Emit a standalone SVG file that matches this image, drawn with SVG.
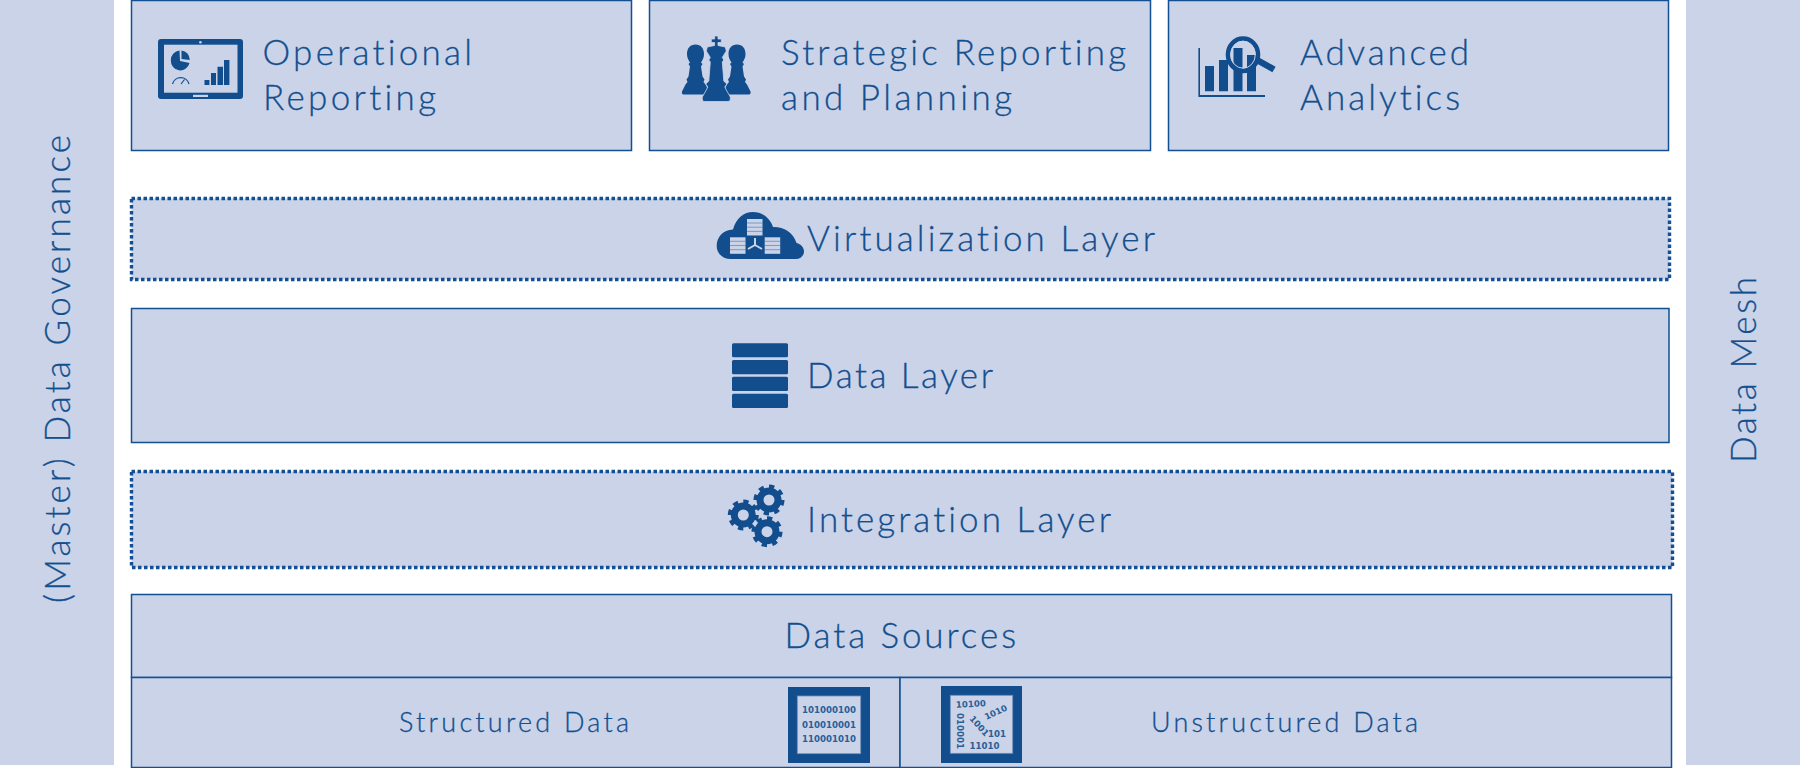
<svg xmlns="http://www.w3.org/2000/svg" xmlns:xlink="http://www.w3.org/1999/xlink" width="1800" height="768" viewBox="0 0 1800 768">
<style>
.box{fill:#cbd3e8;stroke:#124f93;stroke-width:1.5}
.band{fill:#cbd3e8}
.dot{fill:#cbd3e8;stroke:#124f93;stroke-width:3.400;stroke-dasharray:3.500 2.500}
.t{font-family:"Lato","Open Sans","Liberation Sans",sans-serif;font-weight:300;font-size:35px;fill:#124f8f;stroke:#124f8f;stroke-width:0.3;font-variant-ligatures:none}
.s{font-size:27px}
.ic{fill:#124d8d}
.lt{fill:#cbd3e8}
.b{font-family:"DejaVu Sans","Liberation Sans",Arial,sans-serif;font-weight:700;font-size:8.600px;fill:#2a5f98;text-anchor:middle}
.ln{stroke:#cbd3e8;stroke-width:2;fill:none}
.ring{fill:none;stroke:#124d8d;stroke-width:7}
.tooth{fill:none;stroke:#124d8d;stroke-width:4;stroke-dasharray:5 5}
</style>
<defs>
<path id="pawn" d="M0 0C5.500 0 8.500 4 8.500 9.500C8.500 13.500 7 15.500 5.500 18L7 19.500L5.500 22L7 32L9 35L8 37.500L10 40L13.500 47Q14 50 12 50L-12 50Q-14 50 -13.500 47L-10 40L-8 37.500L-9 35L-7 32L-5.500 22L-7 19.500L-5.500 18C-7 15.500 -8.500 13.500 -8.500 9.500C-8.500 4 -5.500 0 0 0Z"/>
<path id="king" d="M-1.700 0H1.700V3H5V6.500H1.700V9.500L9 11L10 15L6 21.500L7.500 24L6 26L7.500 45L10.500 48L8.500 51L10 54L14 61Q14.500 65.500 11.500 65.500H-11.500Q-14.500 65.500 -14 61L-10 54L-8.500 51L-10.500 48L-7.500 45L-6 26L-7.500 24L-6 21.500L-10 15L-9 11L-1.700 9.500V6.500H-5V3H-1.700Z"/>
<g id="gear"><circle class="ring" r="9"/><circle class="tooth" r="13.500" pathLength="80"/></g>
<g id="srv"><rect class="lt" width="15.500" height="16.500"/><path d="M0 4H15.500M0 8.200H15.500M0 12.400H15.500" stroke="#124d8d" stroke-width="0.700" opacity="0.600"/></g>
</defs>

<g id="master-data-governance">
<rect class="band" x="0" y="0" width="114" height="765"/>
<text class="t" transform="translate(69.500,603) rotate(-90)" textLength="468">(Master) Data Governance</text>
</g>
<g id="data-mesh">
<rect class="band" x="1686" y="0" width="114" height="765"/>
<text class="t" transform="translate(1755.700,463) rotate(-90)" textLength="186">Data Mesh</text>
</g>

<g id="operational-reporting">
<rect class="box" x="131.500" y="0.500" width="500" height="150"/>
<rect class="ic" x="158" y="39" width="85" height="60" rx="3"/>
<rect class="lt" x="164" y="44.700" width="73.500" height="48"/>
<circle class="lt" cx="200.400" cy="42.200" r="1.300"/>
<rect class="lt" x="193" y="94.800" width="15" height="2.200"/>
<path class="ic" d="M179.500 50.500A9.500 10 0 1 0 189.500 63L180 61Z"/>
<path class="ic" d="M181.500 50.500A9 9.500 0 0 1 189.800 60L181.500 59Z"/>
<path d="M172.500 84A8.500 8.500 0 0 1 189 84M181 84L184.500 79.500" fill="none" stroke="#124d8d" stroke-width="1.200"/>
<path class="ic" d="M204.500 80H209.400V85H204.500ZM211 73H216V85H211ZM217.500 66.700H223V85H217.500ZM224 60H229.400V85H224Z"/>
<text class="t" x="262.500" y="65" textLength="209.500">Operational</text>
<text class="t" x="263" y="110" textLength="173">Reporting</text>
</g>

<g id="strategic-reporting">
<rect class="box" x="649.500" y="0.500" width="501" height="150"/>
<use class="ic" href="#pawn" x="695.500" y="44.500"/>
<use class="ic" href="#pawn" x="737" y="44.500"/>
<use class="ic" href="#king" x="716.300" y="36" stroke="#cbd3e8" stroke-width="0.800"/>
<text class="t" x="781" y="65" textLength="345">Strategic Reporting</text>
<text class="t" x="781" y="110" textLength="231">and Planning</text>
</g>

<g id="advanced-analytics">
<rect class="box" x="1168.500" y="0.500" width="500" height="150"/>
<path class="ic" d="M1198.400 48H1200V95H1265V97H1198.400Z"/>
<path class="ic" d="M1205 66H1214V91.300H1205ZM1219 60H1228V91.300H1219ZM1233.500 48H1242.500V91.300H1233.500ZM1247 55H1256V91.300H1247Z"/>
<ellipse cx="1243" cy="54.700" rx="15" ry="16.200" fill="none" stroke="#124d8d" stroke-width="4.600"/>
<ellipse cx="1243" cy="54.700" rx="12.300" ry="13.500" fill="none" stroke="#cbd3e8" stroke-width="1"/>
<path d="M1257 60L1274 69.500" stroke="#124d8d" stroke-width="6.500"/>
<text class="t" x="1300" y="65" textLength="169">Advanced</text>
<text class="t" x="1300" y="110" textLength="160">Analytics</text>
</g>

<g id="virtualization-layer">
<rect class="dot" x="131.500" y="198.500" width="1538" height="81"/>
<path class="ic" d="M731 259C722 259 716.700 253 716.700 246C716.700 237 723 230 733 229.500C736 218 744 212 753 212C762 212 770 218 773 227C783 226.500 793 232 796.500 243C801 244 804 247.500 804 251.500C804 256 800 259 796 259Z"/>
<use href="#srv" x="747" y="219"/>
<use href="#srv" x="730" y="237.300"/>
<use href="#srv" x="764.700" y="237.300"/>
<path class="ln" d="M755 238V245L748 249M755 245L762 249"/>
<text class="t" x="807" y="250.700" textLength="348">Virtualization Layer</text>
</g>

<g id="data-layer">
<rect class="box" x="131.500" y="308.500" width="1537.500" height="134"/>
<rect class="ic" x="732" y="343.300" width="56" height="14" rx="1.500"/>
<rect class="ic" x="732" y="360" width="56" height="14.300" rx="1.500"/>
<rect class="ic" x="732" y="376.700" width="56" height="14.300" rx="1.500"/>
<rect class="ic" x="732" y="393.700" width="56" height="14.300" rx="1.500"/>
<text class="t" x="807" y="388" textLength="186">Data Layer</text>
</g>

<g id="integration-layer">
<rect class="dot" x="131.500" y="471.500" width="1541" height="96"/>
<use href="#gear" x="743.300" y="515"/>
<use href="#gear" x="769" y="500"/>
<use href="#gear" x="767" y="531.700"/>
<text class="t" x="807" y="531.700" textLength="304">Integration Layer</text>
</g>

<g id="data-sources">
<rect class="box" x="131.500" y="594.500" width="1540" height="83"/>
<text class="t" x="784.500" y="648" textLength="231.500">Data Sources</text>
</g>

<g id="structured-data">
<rect class="box" x="131.500" y="677.500" width="768.500" height="90"/>
<text class="t s" x="399" y="731.500" textLength="230">Structured Data</text>
<rect class="ic" x="788" y="687" width="82" height="76"/>
<rect class="lt" x="797.300" y="696" width="63.400" height="57.700" stroke="#6f8fb8" stroke-width="0.800"/>
<text class="b" x="829" y="713.300">101000100</text>
<text class="b" x="829" y="727.700">010010001</text>
<text class="b" x="829" y="742.300">110001010</text>
</g>

<g id="unstructured-data">
<rect class="box" x="900" y="677.500" width="771.500" height="90"/>
<text class="t s" x="1151" y="731.500" textLength="267">Unstructured Data</text>
<rect class="ic" x="941" y="686" width="81" height="77"/>
<rect class="lt" x="950.300" y="695.300" width="62.400" height="58" stroke="#6f8fb8" stroke-width="0.800"/>
<text class="b" transform="translate(971,707) rotate(-3)">10100</text>
<text class="b" transform="translate(997,715) rotate(-25)">1010</text>
<text class="b" transform="translate(977,728) rotate(48)">1001</text>
<text class="b" transform="translate(957,731) rotate(90)">010001</text>
<text class="b" transform="translate(997,737)">101</text>
<text class="b" transform="translate(984.500,748.500)">11010</text>
</g>
</svg>
